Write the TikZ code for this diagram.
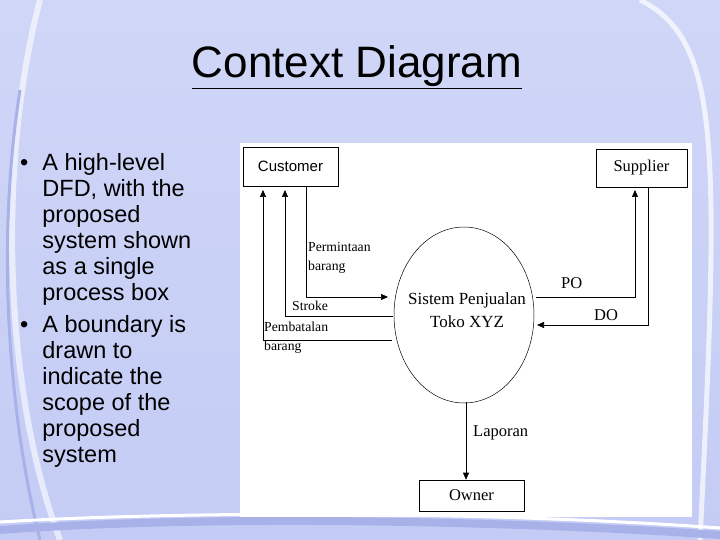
\documentclass[tikz,border=0pt]{standalone}
\usepackage{fontspec}
\setmainfont{Liberation Serif}
\newfontfamily\arial{Liberation Sans}
\usetikzlibrary{arrows.meta}
\definecolor{bgc}{RGB}{196,204,245}
\definecolor{bgd}{RGB}{168,178,232}
\begin{document}
\begin{tikzpicture}[x=1pt,y=-1pt,
  ent/.style={draw,line width=0.6pt,inner sep=0pt,fill=white},
  flow/.style={line width=0.7pt,-{Triangle[length=7pt,width=6pt]}},
  lab/.style={inner sep=0pt,anchor=west,align=left,font=\fontsize{13.7}{19}\selectfont},
  bul/.style={anchor=north west,inner sep=0pt,align=left,font=\arial\fontsize{23.5}{26}\selectfont}]
\useasboundingbox (0,0) rectangle (720,540);
\shade[top color=bgc!80!white,bottom color=bgc] (0,0) rectangle (720,540);
% decorative swooshes
\draw[white,line width=6pt,opacity=0.6] (40,0) .. controls (0,150) and (0,380) .. (60,540);
\draw[bgd,line width=3pt] (20,90) .. controls (-5,250) and (10,420) .. (40,540);
\draw[white,line width=5pt,opacity=0.7] (640,0) .. controls (720,40) and (720,140) .. (700,540);
\draw[bgd,line width=8pt] (0,530) .. controls (200,515) and (500,520) .. (720,535);
\draw[white,line width=3pt] (0,522) .. controls (200,510) and (500,512) .. (720,528);
% title
\node[inner sep=0pt,font=\arial\fontsize{44}{50}\selectfont] (title) at (357,67) {\underline{Context Diagram}};
% bullets
\node[bul] (b1) at (20,153) {\textbullet\hspace{14pt}\parbox[t]{170pt}{\raggedright A high-level\\DFD, with the\\proposed\\system shown\\as a single\\process box}};
\node[bul] (b2) at (20,315) {\textbullet\hspace{14pt}\parbox[t]{170pt}{\raggedright A boundary is\\drawn to\\indicate the\\scope of the\\proposed\\system}};
% panel
\fill[white] (240,143) rectangle (692,517);
\node[ent,minimum width=95pt,minimum height=39pt,font=\arial\fontsize{15}{18}\selectfont] (cust) at (290.5,166.5) {Customer};
\node[ent,minimum width=91pt,minimum height=38pt,font=\fontsize{16.5}{18}\selectfont] (supp) at (641.5,168) {\raisebox{5pt}{Supplier}};
\node[ent,minimum width=105pt,minimum height=31pt,font=\fontsize{16.5}{18}\selectfont] (own) at (471.5,495.5) {Owner};
\draw[line width=0.5pt] (464,315) ellipse (70pt and 88pt);
\coordinate (sys) at (464,315);
\node[inner sep=0pt,align=center,font=\fontsize{17}{23}\selectfont] (syst) at (467,310) {Sistem Penjualan\\Toko XYZ};
% flows
\draw[flow] (cust.south -| 306,0) |- (388,297);
\draw[flow] (393,316) -| (285,190);
\draw[flow] (392,340) -| (263,190);
\draw[flow] (536,297) -| (635,190);
\draw[flow] (supp.south -| 648,0) |- (537,325);
\draw[flow] (466,402) -- (own.north -| 466,0);
% labels
\node[lab] (l1) at (308,258) {Permintaan\\barang};
\node[lab] (l2) at (292,306) {Stroke};
\node[lab] (l3) at (264,338) {Pembatalan\\barang};
\node[lab,font=\fontsize{16.5}{18}\selectfont] (l4) at (561,283) {PO};
\node[lab,font=\fontsize{16.5}{18}\selectfont] (l5) at (594,315) {DO};
\node[lab,font=\fontsize{16.5}{18}\selectfont] (l6) at (473,433) {Laporan};
\end{tikzpicture}
\end{document}
